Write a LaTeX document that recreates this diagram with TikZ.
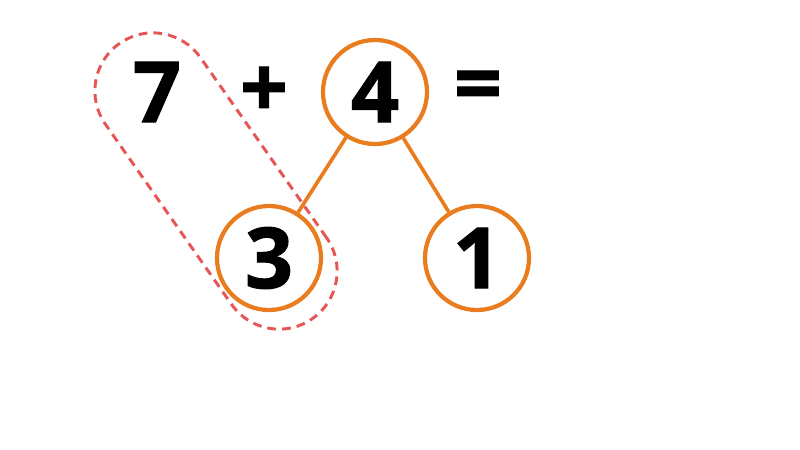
\documentclass[tikz,border=0pt]{standalone}
\usepackage{fontspec}
\setmainfont{Open Sans}[BoldFeatures={FakeBold=1.2}]
\usetikzlibrary{shapes.geometric, calc}

\definecolor{bondorange}{RGB}{232,124,30}
\definecolor{pairred}{RGB}{230,86,86}

\tikzstyle{num} = [font=\fontsize{60}{60}\selectfont\bfseries, text=black, inner sep=0pt]
\tikzstyle{bubble} = [num, circle, draw=bondorange, line width=3pt, minimum size=2.6cm]
\tikzstyle{bond} = [draw=bondorange, line width=2.6pt]
\tikzstyle{pairloop} = [draw=pairred, line width=2.1pt, dash pattern=on 0.22cm off 0.15cm,
rectangle, rounded corners=1.45cm, minimum width=8.4cm, minimum height=2.9cm, inner sep=0pt]

\begin{document}
\begin{tikzpicture}[x=0.025cm, y=-0.025cm]

        % \draw[help lines] (0,0) grid (800,449);
        \useasboundingbox (0,0) rectangle (800,449);

        % top row: the sum
        \node (seven) [num] at (157,92) {7};
        \node (plus) [num] at (264,92) {+};
        \node (four) [bubble] at (375,92) {4};
        \node (equals) [num] at (478,92) {=};

        % the 4 split into 3 and 1
        \node (three) [bubble] at (269,258) {3};
        \node (one) [bubble] at (477,258) {1};

        \draw [bond] (four) -- (three);
        \draw [bond] (four) -- (one);

        % 7 and 3 grouped together
        \node (pair) [pairloop, rotate=-55] at (216,181) {};

    \end{tikzpicture}
\end{document}
